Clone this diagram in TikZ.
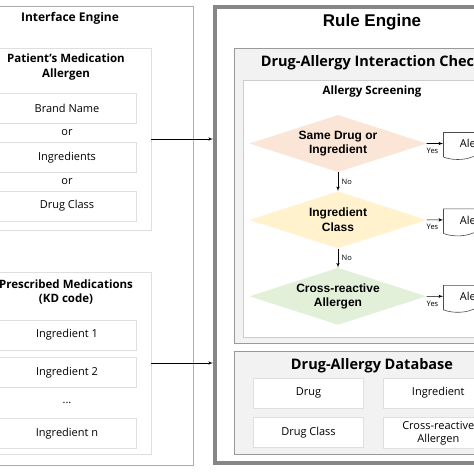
\documentclass[tikz,border=0pt]{standalone}
\usepackage{fontspec}
\setmainfont{Open Sans}
\newfontfamily\arialfont{Liberation Sans}
\usepackage{tikz}
\usetikzlibrary{shapes}
\usetikzlibrary{arrows}
\usetikzlibrary{shapes.geometric}
\usetikzlibrary{shapes.symbols}
\usetikzlibrary{positioning}
\usetikzlibrary{backgrounds}
\definecolor{peach}{HTML}{FBE5D6}
\definecolor{lemon}{HTML}{FFF2CC}
\definecolor{mint}{HTML}{E2F0D9}
\tikzstyle{frame}=[draw=gray!65, line width=0.8pt]
\tikzstyle{ruleframe}=[draw=gray!95, line width=4pt]
\tikzstyle{group}=[draw=gray!25, fill=white, line width=0.8pt]
\tikzstyle{panel}=[draw=gray!80, fill=gray!10, line width=0.8pt]
\tikzstyle{item}=[draw=gray!25, fill=white, line width=0.8pt,
  minimum width=138pt, minimum height=30pt, align=center,
  font=\fontsize{11}{12.5}\selectfont]
\tikzstyle{dbitem}=[item, minimum width=110pt]
\tikzstyle{decision}=[diamond, aspect=3.1, minimum width=177pt,
  minimum height=57pt, inner sep=0pt, align=center,
  font=\arialfont\bfseries\fontsize{12}{14.5}\selectfont]
\tikzstyle{alert}=[tape, tape bend top=none, draw=black!70, fill=white,
  line width=0.6pt, minimum width=57pt, minimum height=27pt,
  font=\fontsize{11}{12}\selectfont]
\tikzstyle{heading}=[font=\bfseries\fontsize{11.5}{14.5}\selectfont, align=center]
\tikzstyle{small}=[font=\fontsize{7.5}{9}\selectfont]
\tikzstyle{line} = [draw, line width=0.6pt, -latex']
\newcommand{\ibox}[2]{node (#1) [item] {#2}}
\newcommand{\decide}[3]{node (#1) [decision, fill=#2] {#3}}

\begin{document}
\begin{tikzpicture}[x=1pt,y=-1pt]
    \useasboundingbox (0,0) rectangle (474,474);

    % Interface engine
    \node (ie) [frame, minimum width=246pt, minimum height=459pt] at (70,235.5) {};
    \node [font=\bfseries\fontsize{12}{14}\selectfont] at (70,18) {Interface Engine};
    \node (pat) [group, minimum width=170pt, minimum height=182pt] at (66,139) {};
    \node [heading] at (66,67) {Patient’s Medication\\Allergen};
    \path (67,108.5) \ibox{b1}{Brand Name};
    \node (b2) [item, below=18pt of b1] {Ingredients};
    \node (b3) [item, below=18pt of b2] {Drug Class};
    \path (b1) -- node [font=\fontsize{11}{12}\selectfont] {or} (b2);
    \path (b2) -- node [font=\fontsize{11}{12}\selectfont] {or} (b3);

    \node (pre) [group, minimum width=170pt, minimum height=182pt] at (66,363) {};
    \node [heading] at (66,292) {Prescribed Medications\\(KD code)};
    \path (67,335) \ibox{m1}{Ingredient 1};
    \node (m2) [item, below=7pt of m1] {Ingredient 2};
    \node (mn) [item, below=30pt of m2] {Ingredient n};
    \path (m2) -- node [font=\fontsize{11}{12}\selectfont] {...} (mn);

    % Rule engine
    \node (re) [ruleframe, minimum width=315pt, minimum height=456pt] at (372.5,235) {};
    \node [font=\arialfont\bfseries\fontsize{17}{20}\selectfont] at (372,22) {Rule Engine};
    \node (dai) [panel, minimum width=276pt, minimum height=295pt] at (372,195.5) {};
    \node [font=\bfseries\fontsize{14.5}{17}\selectfont] at (372,63) {Drug-Allergy Interaction Check};
    \node (scr) [group, draw=gray!40, minimum width=258pt, minimum height=257pt] at (372,208.5) {};
    \node [heading] at (372,92) {Allergy Screening};

    \path (338,143.5) \decide{d1}{peach}{Same Drug or\\Ingredient};
    \node (d2) [decision, fill=lemon, below=19pt of d1] {Ingredient\\Class};
    \node (d3) [decision, fill=mint, below=19pt of d2] {Cross-reactive\\Allergen};
    \node (a1) [alert, right=16.5pt of d1] {Alert};
    \node (a2) [alert, right=16.5pt of d2] {Alert};
    \node (a3) [alert, right=16.5pt of d3] {Alert};

    \node (db) [panel, minimum width=276pt, minimum height=103pt] at (372,402.5) {};
    \node [font=\bfseries\fontsize{14.5}{17}\selectfont] at (372,366) {Drug-Allergy Database};
    \node (g1) [dbitem] at (308.5,393) {Drug};
    \node (g2) [dbitem, right=19pt of g1] {Ingredient};
    \node (g3) [dbitem, below=9pt of g1] {Drug Class};
    \node (g4) [dbitem, below=9pt of g2, font=\fontsize{11}{13}\selectfont] {Cross-reactive\\Allergen};

    % Draw arrows between elements
    \path [line] (pat.east) -- (pat.east -| re.west);
    \path [line] (pre.east) -- (pre.east -| re.west);
    \path [line] (d1) -- node [small, right] {No} (d2);
    \path [line] (d2) -- node [small, right] {No} (d3);
    \path [line] (d1.east) -- node [small, below=1pt, pos=0.35] {Yes} (a1);
    \path [line] (d2.east) -- node [small, below=1pt, pos=0.35] {Yes} (a2);
    \path [line] (d3.east) -- node [small, below=1pt, pos=0.35] {Yes} (a3);

  \end{tikzpicture}
\end{document}
